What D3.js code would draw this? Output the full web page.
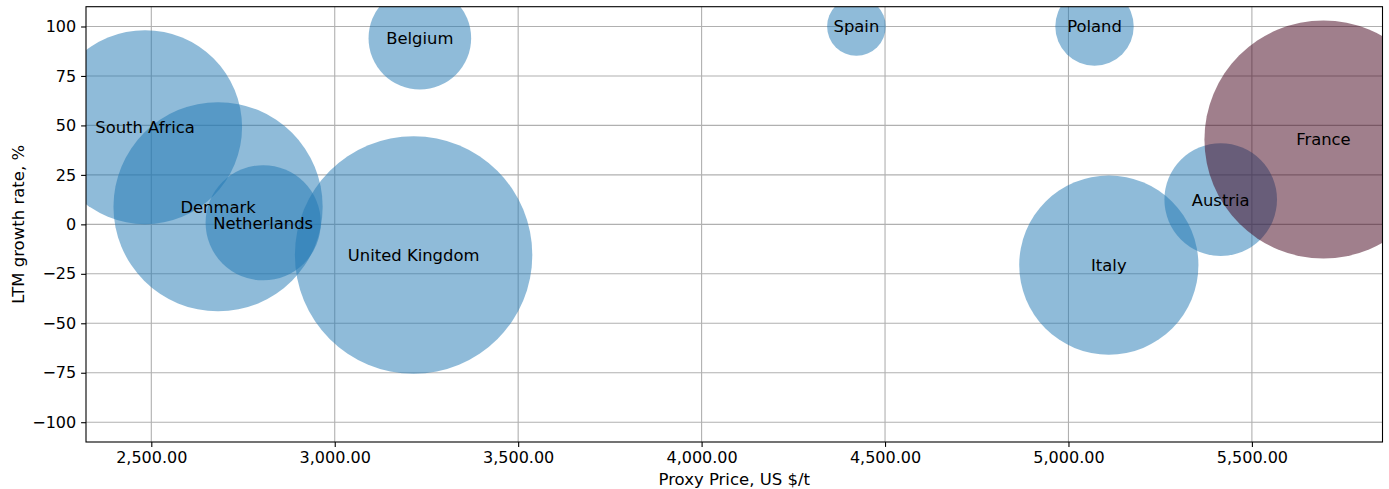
<!DOCTYPE html>
<html><head><meta charset="utf-8">
<script src="https://cdn.jsdelivr.net/npm/d3@7"></script>
<style>body{margin:0;background:#fff}text{font-family:"DejaVu Sans",sans-serif}</style>
</head><body><svg id="c" width="1389" height="489"></svg>
<script>
const countries = ["South Africa","Denmark","Netherlands","Belgium","United Kingdom","Spain","Poland","Italy","Austria","France"];
const prices = [2483, 2682, 2805, 3232, 3215, 4422, 5071, 5110, 5415, 5695];
const growth = [49.1, 8.9, 0.8, 94.1, -15.5, 100, 100, -20.6, 12.5, 42.9];
const volumes = [9409, 10941, 3318, 2632, 14090, 858, 1537, 8028, 3170, 14161];
const highlight = ["France"];
const xTicks = [2500, 3000, 3500, 4000, 4500, 5000, 5500];
const yTicks = [-100, -75, -50, -25, 0, 25, 50, 75, 100];

const svg = d3.select("#c");
const m = {l:86, r:1389-1382.5, t:6.7, b:489-442};
const W = 1389, H = 489;
const x = d3.scaleLinear().domain([2322, 5856]).range([m.l, W-m.r]);
const y = d3.scaleLinear().domain([-110, 110]).range([H-m.b, m.t]);
const rScale = d3.scaleSqrt().domain([0, d3.max(volumes)]).range([0, 119]);

const data = countries.map((c,i)=>({c, x:prices[i], y:growth[i], v:volumes[i], hi: highlight.includes(c)}));
const ordered = data.filter(d=>!d.hi).concat(data.filter(d=>d.hi));

const defs = svg.append("defs");
defs.append("clipPath").attr("id","clip").append("rect")
  .attr("x",m.l).attr("y",m.t).attr("width",W-m.r-m.l).attr("height",H-m.b-m.t);

// grid
const g = svg.append("g");
g.selectAll(".gx").data(xTicks).join("line")
  .attr("x1",d=>x(d)).attr("x2",d=>x(d)).attr("y1",m.t).attr("y2",H-m.b)
  .attr("stroke","#b0b0b0").attr("stroke-width",1.1);
g.selectAll(".gy").data(yTicks).join("line")
  .attr("y1",d=>y(d)).attr("y2",d=>y(d)).attr("x1",m.l).attr("x2",W-m.r)
  .attr("stroke","#b0b0b0").attr("stroke-width",1.1);

// bubbles
const bub = svg.append("g").attr("clip-path","url(#clip)");
bub.selectAll("circle").data(ordered).join("circle")
  .attr("cx",d=>x(d.x)).attr("cy",d=>y(d.y)).attr("r",d=>rScale(d.v))
  .attr("fill",d=>d.hi?"#41001a":"#1f77b4").attr("fill-opacity",0.5);

bub.selectAll("text").data(data).join("text")
  .attr("x",d=>x(d.x)).attr("y",d=>y(d.y)).attr("dy","0.36em")
  .attr("text-anchor","middle").attr("font-size","16.4px").attr("fill","#000")
  .text(d=>d.c);

// axes
const fmtX = d3.format(",.2f");
const xAxis = d3.axisBottom(x).tickValues(xTicks).tickFormat(fmtX).tickSize(4.9).tickPadding(4.9);
const yAxis = d3.axisLeft(y).tickValues(yTicks).tickFormat(d3.format("d")).tickSize(4.9).tickPadding(4.9);
const ax = svg.append("g").attr("transform",`translate(0,${H-m.b})`).call(xAxis);
const ay = svg.append("g").attr("transform",`translate(${m.l},0)`).call(yAxis);
[ax,ay].forEach(a=>{
  a.select(".domain").remove();
  a.selectAll("line").attr("stroke","#000").attr("stroke-width",1.1);
  a.selectAll("text").attr("font-size","16px").attr("fill","#000").attr("font-family","DejaVu Sans");
});

// spines
svg.append("rect").attr("x",m.l).attr("y",m.t).attr("width",W-m.r-m.l).attr("height",H-m.b-m.t)
  .attr("fill","none").attr("stroke","#000").attr("stroke-width",1.1);

svg.append("text").attr("x",(m.l+W-m.r)/2).attr("y",485).attr("text-anchor","middle")
  .attr("font-size","16.5px").text("Proxy Price, US $/t");
svg.append("text").attr("transform",`translate(24,${(m.t+H-m.b)/2}) rotate(-90)`).attr("text-anchor","middle")
  .attr("font-size","16.5px").text("LTM growth rate, %");
</script></body></html>
